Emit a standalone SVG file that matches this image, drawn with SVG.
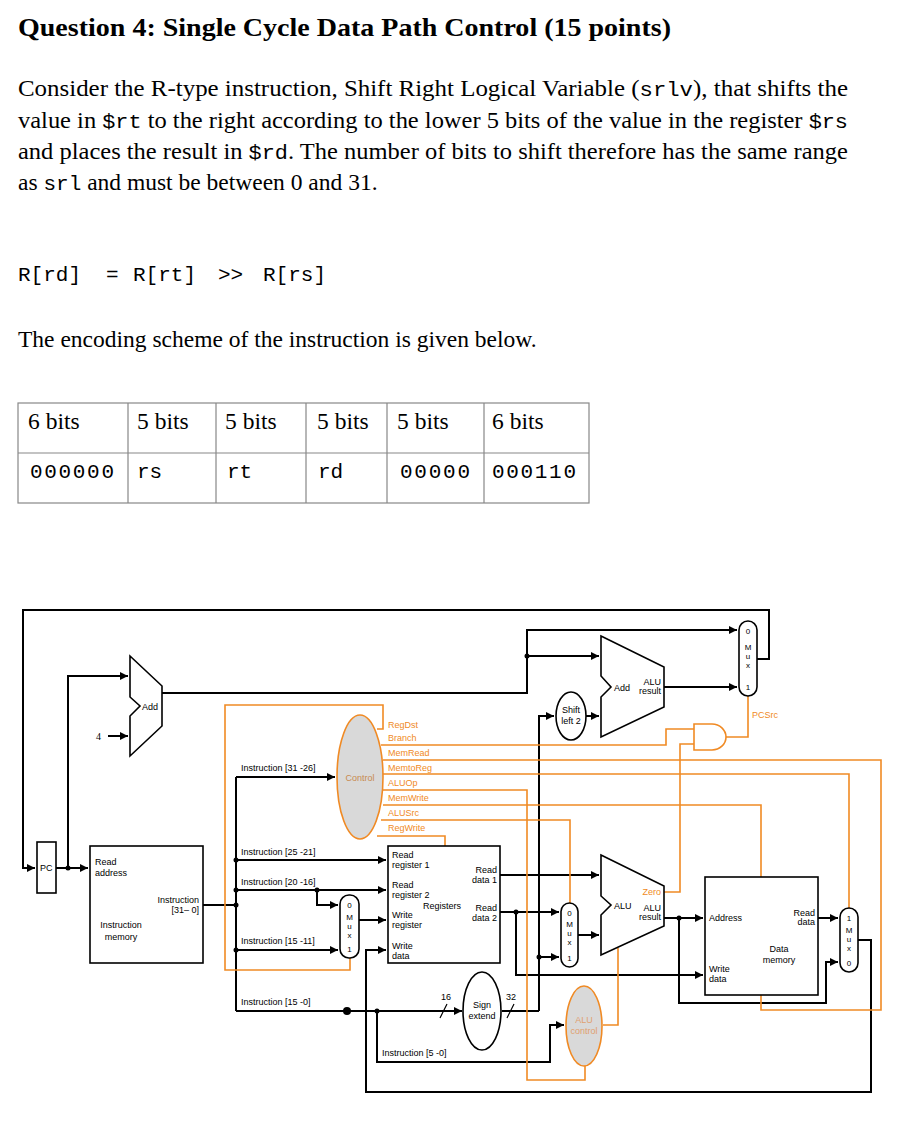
<svg xmlns="http://www.w3.org/2000/svg" width="914" height="1126" viewBox="0 0 914 1126">
<style>
.t{font-family:"Liberation Serif",serif;font-size:23.5px;fill:#000}
.m{font-family:"Liberation Mono",monospace;font-size:21px;fill:#000}
.s{font-family:"Liberation Sans",Arial,sans-serif;font-size:9px;fill:#000}
.o{font-family:"Liberation Sans",Arial,sans-serif;font-size:9px;fill:#f08a24}
.k{fill:none;stroke:#000;stroke-width:2}
.ko{fill:none;stroke:#f08a24;stroke-width:1.6}
.b{fill:#fff;stroke:#000;stroke-width:1.6}
.tb{fill:none;stroke:#888;stroke-width:1.2}
</style>
<defs>
<marker id="a" viewBox="0 0 10 10" refX="10" refY="5" markerWidth="4" markerHeight="4" orient="auto"><path d="M0,0L10,5L0,10z" fill="#000"/></marker>
</defs>
<rect width="914" height="1126" fill="#fff"/>
<text x="18" y="36" class="t" style="font-weight:bold;font-size:26px" textLength="653" lengthAdjust="spacingAndGlyphs">Question 4: Single Cycle Data Path Control (15 points)</text>
<text x="18" y="96" class="t" textLength="830" lengthAdjust="spacingAndGlyphs">Consider the R-type instruction, Shift Right Logical Variable (<tspan class="m">srlv</tspan>), that shifts the</text>
<text x="18" y="128" class="t" textLength="830" lengthAdjust="spacingAndGlyphs">value in <tspan class="m">$rt</tspan> to the right according to the lower 5 bits of the value in the register <tspan class="m">$rs</tspan></text>
<text x="18" y="159" class="t" textLength="830" lengthAdjust="spacingAndGlyphs">and places the result in <tspan class="m">$rd</tspan>. The number of bits to shift therefore has the same range</text>
<text x="18" y="190" class="t">as <tspan class="m">srl</tspan> and must be between 0 and 31.</text>
<g class="m"><text x="18" y="281">R[rd]</text><text x="106" y="281">=</text><text x="133" y="281">R[rt]</text><text x="218" y="281">&gt;&gt;</text><text x="263" y="281">R[rs]</text></g>
<text x="18" y="347" class="t">The encoding scheme of the instruction is given below.</text>
<g id="table">
<rect x="18" y="403" width="571" height="100" class="tb"/>
<path d="M18 453H589M128 403V503M216 403V503M306 403V503M387 403V503M484 403V503" class="tb"/>
<text x="28" y="429" class="t">6 bits</text><text x="137" y="429" class="t">5 bits</text><text x="225" y="429" class="t">5 bits</text><text x="317" y="429" class="t">5 bits</text><text x="397" y="429" class="t">5 bits</text><text x="492" y="429" class="t">6 bits</text>
<text x="30" y="478" class="m" textLength="84">000000</text><text x="137" y="478" class="m">rs</text><text x="227" y="478" class="m">rt</text><text x="318" y="478" class="m">rd</text><text x="400" y="478" class="m" textLength="70">00000</text><text x="492" y="478" class="m" textLength="84">000110</text>
</g>
<g id="connectors">
<path class="k" d="M757 659H769V610H23V868H35" marker-end="url(#a)"/>
<path class="k" d="M56 868H88" marker-end="url(#a)"/>
<path class="k" d="M68 868V676H128" marker-end="url(#a)"/>
<path class="k" d="M108 736H128" marker-end="url(#a)"/>
<path class="k" d="M162 693H527V630H737" marker-end="url(#a)"/>
<path class="k" d="M527 656H599" marker-end="url(#a)"/>
<path class="k" d="M664 687H737" marker-end="url(#a)"/>
<path class="k" d="M586 716H599" marker-end="url(#a)"/>
<path class="k" d="M539 1011V716H554" marker-end="url(#a)"/>
<path class="k" d="M203 905H236"/>
<path class="k" d="M236 777V1011"/>
<path class="k" d="M236 777H335" marker-end="url(#a)"/>
<path class="k" d="M236 860H386" marker-end="url(#a)"/>
<path class="k" d="M236 890H386" marker-end="url(#a)"/>
<path class="k" d="M317 890V905H338" marker-end="url(#a)"/>
<path class="k" d="M236 950H338" marker-end="url(#a)"/>
<path class="k" d="M359 920H386" marker-end="url(#a)"/>
<path class="k" d="M236 1011H462" marker-end="url(#a)"/>
<path class="k" d="M377 1011V1062H550V1025H564" marker-end="url(#a)"/>
<path class="k" d="M502 1011H539"/>
<path class="k" d="M539 957H559" marker-end="url(#a)"/>
<path class="k" d="M440 1018L447 1004M507 1018L514 1004" style="stroke-width:1.2"/>
<path class="k" d="M500 875H599" marker-end="url(#a)"/>
<path class="k" d="M500 912H559" marker-end="url(#a)"/>
<path class="k" d="M516 912V975H703" marker-end="url(#a)"/>
<path class="k" d="M578 935H599" marker-end="url(#a)"/>
<path class="k" d="M664 918H703" marker-end="url(#a)"/>
<path class="k" d="M679 918V1003H826V962H838" marker-end="url(#a)"/>
<path class="k" d="M818 918H838" marker-end="url(#a)"/>
<path class="k" d="M858 940H871V1092H366V950H386" marker-end="url(#a)"/>
<g fill="#000">
<circle cx="68" cy="868" r="2.5"/><circle cx="527" cy="656" r="2.5"/><circle cx="236" cy="905" r="2.5"/><circle cx="236" cy="860" r="2.5"/><circle cx="236" cy="890" r="2.5"/><circle cx="236" cy="950" r="2.5"/><circle cx="317" cy="890" r="2.5"/><circle cx="347" cy="1011" r="4"/><circle cx="377" cy="1011" r="2.5"/><circle cx="516" cy="912" r="2.5"/><circle cx="539" cy="957" r="2.5"/><circle cx="679" cy="918" r="2.5"/>
</g>
<path class="ko" d="M377 729H383V705H225V970H350V958"/>
<path class="ko" d="M381 745H666V729H694"/>
<path class="ko" d="M664 892H680V744H694"/>
<path class="ko" d="M726 737H748V696"/>
<path class="ko" d="M383 760H881V1010H761V995"/>
<path class="ko" d="M383 774H849V908"/>
<path class="ko" d="M383 790H527V1080H585V1066"/>
<path class="ko" d="M383 805H761V877"/>
<path class="ko" d="M381 820H570V903"/>
<path class="ko" d="M377 836H445V846"/>
<path class="ko" d="M603 1025H618V948"/>
</g>
<g id="pc"><rect x="37" y="842" width="19" height="51" class="b"/><text x="40" y="871" class="s">PC</text></g>
<g id="add4"><path class="b" d="M130 656L162 686V726L130 756V716L140 706L130 697Z"/><text x="142" y="710" class="s">Add</text><text x="96" y="740" class="t" style="font-size:10px">4</text></g>
<g id="imem"><rect x="90" y="846" width="113" height="117" class="b"/><text x="95" y="865" class="s">Read</text><text x="95" y="876" class="s">address</text><text x="199" y="903" class="s" text-anchor="end">Instruction</text><text x="199" y="913" class="s" text-anchor="end">[31– 0]</text><text x="121" y="928" class="s" text-anchor="middle">Instruction</text><text x="121" y="940" class="s" text-anchor="middle">memory</text></g>
<g id="labels">
<text x="241" y="771" class="s">Instruction [31 -26]</text>
<text x="241" y="855" class="s">Instruction [25 -21]</text>
<text x="241" y="885" class="s">Instruction [20 -16]</text>
<text x="241" y="944" class="s">Instruction [15 -11]</text>
<text x="241" y="1005" class="s">Instruction [15 -0]</text>
<text x="382" y="1056" class="s">Instruction [5 -0]</text>
<text x="441" y="1000" class="s">16</text><text x="506" y="1000" class="s">32</text>
<text x="752" y="718" class="o">PCSrc</text>
</g>
<g id="control"><ellipse cx="360" cy="777" rx="23" ry="62" fill="#d9d9d9" stroke="#f08a24" stroke-width="1.6"/><text x="360" y="781" class="o" text-anchor="middle" style="fill:#c88a50">Control</text>
<text x="388" y="728" class="o">RegDst</text><text x="388" y="741" class="o">Branch</text><text x="388" y="756" class="o">MemRead</text><text x="388" y="771" class="o">MemtoReg</text><text x="388" y="786" class="o">ALUOp</text><text x="388" y="801" class="o">MemWrite</text><text x="388" y="816" class="o">ALUSrc</text><text x="388" y="831" class="o">RegWrite</text></g>
<g id="mux-regdst"><rect x="340" y="895" width="19" height="63" rx="9" class="b"/><text x="349.5" y="908" class="s" text-anchor="middle" style="font-size:8px">0</text><text x="349.5" y="920" class="s" text-anchor="middle" style="font-size:8px">M</text><text x="349.5" y="929" class="s" text-anchor="middle" style="font-size:8px">u</text><text x="349.5" y="938" class="s" text-anchor="middle" style="font-size:8px">x</text><text x="349.5" y="952" class="s" text-anchor="middle" style="font-size:8px">1</text></g>
<g id="registers"><rect x="388" y="846" width="112" height="117" class="b"/><text x="392" y="858" class="s">Read</text><text x="392" y="868" class="s">register 1</text><text x="392" y="888" class="s">Read</text><text x="392" y="898" class="s">register 2</text><text x="423" y="909" class="s">Registers</text><text x="392" y="918" class="s">Write</text><text x="392" y="928" class="s">register</text><text x="392" y="949" class="s">Write</text><text x="392" y="959" class="s">data</text><text x="497" y="873" class="s" text-anchor="end">Read</text><text x="497" y="883" class="s" text-anchor="end">data 1</text><text x="497" y="911" class="s" text-anchor="end">Read</text><text x="497" y="921" class="s" text-anchor="end">data 2</text></g>
<g id="signext"><ellipse cx="482" cy="1011" rx="19" ry="39" class="b"/><text x="482" y="1008" class="s" text-anchor="middle">Sign</text><text x="482" y="1019" class="s" text-anchor="middle">extend</text></g>
<g id="shift"><ellipse cx="571" cy="716" rx="15" ry="24" class="b"/><text x="571" y="713" class="s" text-anchor="middle">Shift</text><text x="571" y="724" class="s" text-anchor="middle">left 2</text></g>
<g id="addbr"><path class="b" d="M601 636L664 667V707L601 737V697L611 687L601 676Z"/><text x="614" y="691" class="s">Add</text><text x="661" y="685" class="s" text-anchor="end">ALU</text><text x="661" y="694" class="s" text-anchor="end">result</text></g>
<g id="mux-pc"><rect x="739" y="621" width="18" height="75" rx="9" class="b"/><text x="748" y="634" class="s" text-anchor="middle" style="font-size:8px">0</text><text x="748" y="650" class="s" text-anchor="middle" style="font-size:8px">M</text><text x="748" y="659" class="s" text-anchor="middle" style="font-size:8px">u</text><text x="748" y="668" class="s" text-anchor="middle" style="font-size:8px">x</text><text x="748" y="690" class="s" text-anchor="middle" style="font-size:8px">1</text></g>
<g id="and"><path d="M694 724H712A14 13 0 0 1 712 750H694Z" fill="#fff" stroke="#f08a24" stroke-width="1.6"/></g>
<g id="mux-alusrc"><rect x="561" y="903" width="17" height="64" rx="8.5" class="b"/><text x="569.5" y="916" class="s" text-anchor="middle" style="font-size:8px">0</text><text x="569.5" y="927" class="s" text-anchor="middle" style="font-size:8px">M</text><text x="569.5" y="936" class="s" text-anchor="middle" style="font-size:8px">u</text><text x="569.5" y="945" class="s" text-anchor="middle" style="font-size:8px">x</text><text x="569.5" y="961" class="s" text-anchor="middle" style="font-size:8px">1</text></g>
<g id="alu"><path class="b" d="M601 855L664 886V926L601 955V915L611 905L601 896Z"/><text x="614" y="909" class="s">ALU</text><text x="661" y="895" class="o" text-anchor="end">Zero</text><text x="661" y="911" class="s" text-anchor="end">ALU</text><text x="661" y="920" class="s" text-anchor="end">result</text></g>
<g id="alucontrol"><ellipse cx="584" cy="1026" rx="18" ry="40" fill="#d9d9d9" stroke="#f08a24" stroke-width="1.6"/><text x="584" y="1023" class="o" text-anchor="middle" style="fill:#e0a070">ALU</text><text x="584" y="1034" class="o" text-anchor="middle" style="fill:#e0a070">control</text></g>
<g id="dmem"><rect x="705" y="877" width="113" height="118" class="b"/><text x="709" y="921" class="s">Address</text><text x="815" y="916" class="s" text-anchor="end">Read</text><text x="815" y="925" class="s" text-anchor="end">data</text><text x="779" y="952" class="s" text-anchor="middle">Data</text><text x="779" y="963" class="s" text-anchor="middle">memory</text><text x="709" y="972" class="s">Write</text><text x="709" y="982" class="s">data</text></g>
<g id="mux-mem"><rect x="840" y="908" width="18" height="64" rx="9" class="b"/><text x="849" y="921" class="s" text-anchor="middle" style="font-size:8px">1</text><text x="849" y="933" class="s" text-anchor="middle" style="font-size:8px">M</text><text x="849" y="942" class="s" text-anchor="middle" style="font-size:8px">u</text><text x="849" y="951" class="s" text-anchor="middle" style="font-size:8px">x</text><text x="849" y="966" class="s" text-anchor="middle" style="font-size:8px">0</text></g>
</svg>
